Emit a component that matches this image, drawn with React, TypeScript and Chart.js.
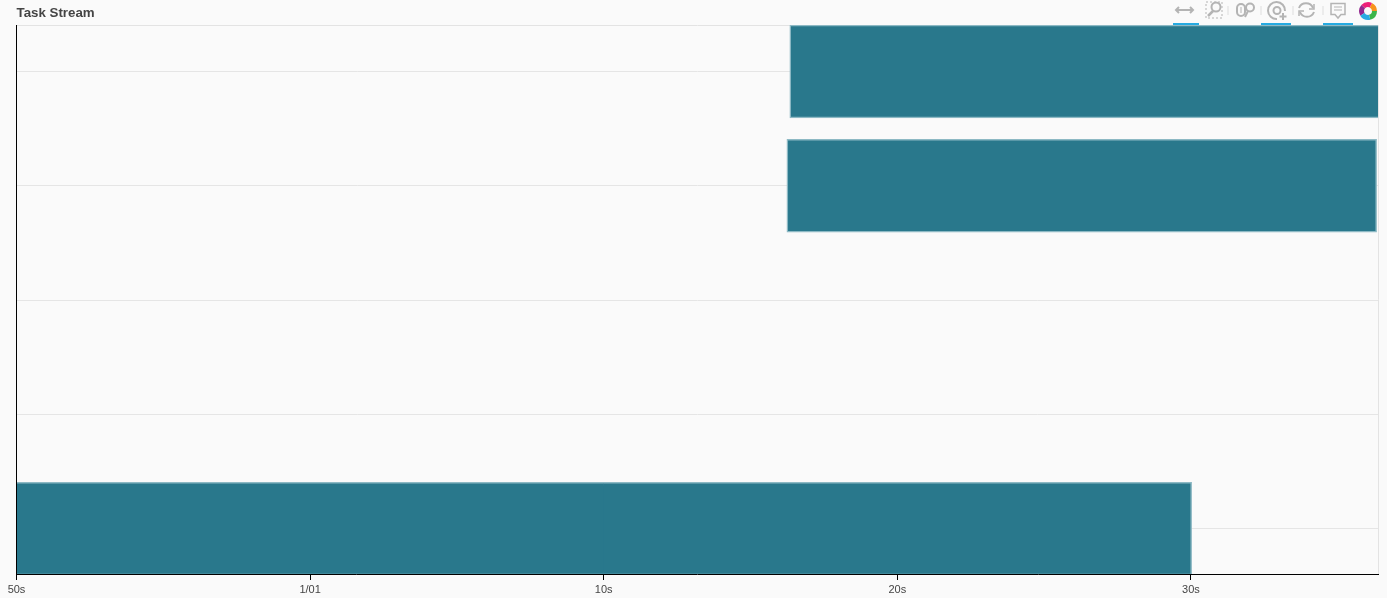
import React, { useEffect, useRef } from "react";
import { Chart, registerables } from "chart.js";

Chart.register(...registerables);

const titleText = "Task Stream";
const tickLabels = ["50s", "1/01", "10s", "20s", "30s"];
const taskRows = [5, 4, 1, 1];
const taskStarts = [26.36, 26.26, -0.1, 20];
const taskEnds = [47, 46.3, 20.02, 40];
const xMax = 46.37;
const yMin = 0.603;
const yMax = 5.406;

const FONT = "'Liberation Sans', Arial, sans-serif";
const BG = "#fafafa";
const ICON = "#b4b4b4";

const frame = {
  id: "frame",
  beforeDatasetsDraw(chart: any) {
    const { ctx, chartArea: a } = chart;
    ctx.save();
    ctx.strokeStyle = "#e3e3e3";
    ctx.lineWidth = 1;
    ctx.beginPath();
    ctx.moveTo(a.left, Math.round(a.top) + 0.5);
    ctx.lineTo(a.right + 0.5, Math.round(a.top) + 0.5);
    ctx.lineTo(a.right + 0.5, a.bottom);
    ctx.stroke();
    ctx.restore();
  },
};

function Toolbar() {
  const s = { fill: "none", stroke: ICON, strokeWidth: 2 } as const;
  return (
    <svg width={1387} height={26} style={{ position: "absolute", left: 0, top: 0, pointerEvents: "none" }}>
      <rect x={1173} y={23} width={26} height={2} fill="#26aae1" />
      <rect x={1261} y={23} width={30} height={2} fill="#26aae1" />
      <rect x={1323} y={23} width={30} height={2} fill="#26aae1" />
      <path d="M1177 10H1192M1179 7L1176 10L1179 13M1190 7L1193 10L1190 13" {...s} />
      <rect x={1206} y={2} width={16} height={16} fill="none" stroke={ICON} strokeWidth={1} strokeDasharray="2 2" />
      <circle cx={1216} cy={7} r={4.5} {...s} />
      <path d="M1213 11L1208 16" {...s} strokeWidth={2.5} />
      <rect x={1237} y={4} width={8} height={12} rx={4} {...s} />
      <path d="M1241 7V13" fill="none" stroke={ICON} strokeWidth={1} />
      <circle cx={1250} cy={7.5} r={4} {...s} />
      <path d="M1248 11L1245 17" {...s} />
      <path d="M1285 11A8.5 8.5 0 1 0 1277 19" {...s} />
      <circle cx={1277} cy={10.5} r={3.5} {...s} />
      <path d="M1283 13V20M1279.5 16.5H1286.5" {...s} />
      <path d="M1299 8A7.5 7.5 0 0 1 1313 8M1314 12A7.5 7.5 0 0 1 1300 12" {...s} />
      <path d="M1314 4V9H1309M1299 16V11H1304" fill="none" stroke={ICON} strokeWidth={1.5} />
      <path d="M1331 3.5H1345V14.5H1341L1338 18L1335 14.5H1331Z" {...s} strokeWidth={1.5} />
      <path d="M1334 7H1342M1334 10H1342" fill="none" stroke={ICON} strokeWidth={1} />
      <path d="M1228 6V15M1261 6V15M1293 6V15M1323 6V15" fill="none" stroke="#dedede" strokeWidth={1} />
      <circle cx={1368} cy={11} r={6.5} fill="none" stroke="#3bb54a" strokeWidth={5} strokeDasharray="8.2 32.8" strokeDashoffset={0} />
      <circle cx={1368} cy={11} r={6.5} fill="none" stroke="#f7931e" strokeWidth={5} strokeDasharray="8.2 32.8" strokeDashoffset={8.2} />
      <circle cx={1368} cy={11} r={6.5} fill="none" stroke="#ed1e79" strokeWidth={5} strokeDasharray="8.2 32.8" strokeDashoffset={16.4} />
      <circle cx={1368} cy={11} r={6.5} fill="none" stroke="#93278f" strokeWidth={5} strokeDasharray="8.2 32.8" strokeDashoffset={24.6} />
      <circle cx={1368} cy={11} r={6.5} fill="none" stroke="#29abe2" strokeWidth={5} strokeDasharray="8.2 32.8" strokeDashoffset={32.8} />
    </svg>
  );
}

export default function App() {
  const ref = useRef<HTMLCanvasElement>(null);
  useEffect(() => {
    const chart = new Chart(ref.current!, {
      type: "bar",
      plugins: [frame],
      data: {
        datasets: [
          {
            data: taskRows.map((y, i) => ({ x: [taskStarts[i], taskEnds[i]], y })) as any,
            backgroundColor: "#29788c",
            borderColor: "#8db9c4",
            borderWidth: 1.5,
            inflateAmount: 1,
            borderSkipped: ((c: any) =>
              c.dataIndex === 2 ? "right" : c.dataIndex === 3 ? "left" : false) as any,
            barPercentage: 0.8,
            categoryPercentage: 1,
          },
        ],
      },
      options: {
        indexAxis: "y",
        responsive: false,
        animation: false,
        layout: { padding: { left: 16.5, right: 9, top: 0, bottom: 0 } },
        plugins: {
          legend: { display: false },
          tooltip: { enabled: false },
          title: {
            display: true,
            text: titleText,
            align: "start",
            fullSize: false,
            color: "#444444",
            font: { family: FONT, size: 13.3, weight: "bold" },
            padding: { top: 5.5, bottom: 3.54 },
          },
        },
        scales: {
          x: {
            type: "linear",
            min: 0,
            max: xMax,
            afterFit(scale: any) {
              scale.height = 24;
              scale.paddingLeft = 0;
              scale.paddingRight = 0;
            },
            grid: { drawOnChartArea: false, drawTicks: true, tickLength: 6, tickColor: "#000000" },
            border: { display: true, color: "#000000", width: 1, z: 1 },
            ticks: {
              stepSize: 10,
              includeBounds: false,
              autoSkip: false,
              maxRotation: 0,
              padding: 3,
              color: "#444444",
              font: { family: FONT, size: 11 },
              callback: (v: any) => tickLabels[Math.round(Number(v) / 10)] ?? "",
            },
          },
          y: {
            type: "linear",
            offset: false,
            min: yMin,
            max: yMax,
            afterFit(scale: any) {
              scale.width = 0;
            },
            grid: { offset: false, color: "#e5e5e5", lineWidth: 1, drawTicks: false },
            border: { display: true, color: "#000000", width: 1, z: 1 },
            ticks: { display: false, stepSize: 1, includeBounds: false },
          },
        },
      } as any,
    });
    return () => chart.destroy();
  }, []);
  return (
    <div style={{ position: "fixed", left: 0, top: 0, width: 1387, height: 598, background: BG, overflow: "hidden" }}>
      <canvas ref={ref} width={1387} height={598} style={{ display: "block" }} />
      <Toolbar />
    </div>
  );
}
